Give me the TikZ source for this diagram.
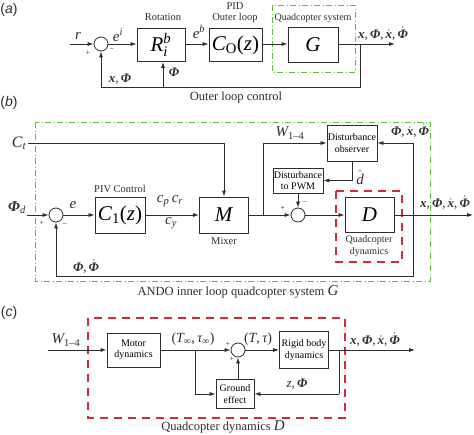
\RequirePackage{fix-cm}
\documentclass[tikz,border=0pt]{standalone}
\usepackage{amsmath,amssymb}
\usepackage{fontspec}
\setmainfont{Liberation Serif}
\newfontfamily\panelfont{Liberation Sans}
\usetikzlibrary{arrows.meta}
\definecolor{ggreen}{RGB}{95,190,60}
\definecolor{rred}{RGB}{212,40,60}
\definecolor{lc}{RGB}{45,45,45}
\tikzset{
  blk/.style={draw=lc, line width=0.8pt, inner sep=0pt, align=center},
  sumc/.style={circle, draw=lc, line width=0.8pt, minimum size=14pt, inner sep=0pt},
  conn/.style={draw=lc, line width=0.8pt, -{Latex[length=6pt,width=4pt]}},
  wire/.style={draw=lc, line width=0.8pt},
  gbox/.style={draw=ggreen, line width=1pt, dash pattern=on 6pt off 2.5pt on 1pt off 2.5pt},
  rbox/.style={draw=rred, line width=1.6pt, dash pattern=on 8pt off 6pt},
  lbl/.style={inner sep=0pt, text=lc},
  bigtxt/.style={font=\fontsize{21}{21}\selectfont},
  midtxt/.style={font=\fontsize{15}{15}\selectfont},
  captxt/.style={font=\fontsize{10.5}{12}\selectfont},
  boxtxt/.style={font=\fontsize{10}{11.5}\selectfont},
  smltxt/.style={font=\fontsize{8}{8}\selectfont},
  outtxt/.style={font=\fontsize{13}{13}\selectfont},
  titletxt/.style={font=\fontsize{12.5}{12.5}\selectfont},
  paneltxt/.style={font=\panelfont\fontsize{14}{14}\selectfont}
}
\newcommand{\mi}[1]{\text{\itshape #1}}
\newcommand{\mb}[1]{\text{\bfseries\itshape #1}}
\newcommand{\bPhi}{\mb{Φ}}
\newcommand{\bx}{\mb{x}}
\newcommand{\outlab}{$\bx\text{,\,}\bPhi\text{,\,}\dot{\bx}\text{,\,}\dot{\bPhi}$}
\begin{document}
\begin{tikzpicture}[x=1pt,y=-1pt]
\useasboundingbox (0,0) rectangle (474,434);
% ---------------- (a) ----------------
\node[lbl,paneltxt] (pa) at (9,10) {(\textit{a})};
\node[sumc] (s1) at (101,44) {};
\node[blk,bigtxt,minimum width=48pt,minimum height=33pt] (rot) at (161,45) {$\mi{R}_{\mi{i}}^{\mi{b}}$};
\node[blk,bigtxt,minimum width=53pt,minimum height=33pt] (co) at (235.5,45) {$\mi{C}_{\text{O}}\text{(}\mi{z}\text{)}$};
\node[blk,bigtxt,minimum width=50pt,minimum height=35pt] (G) at (313,44.5) {\textit{G}};
\draw[gbox] (272,5) rectangle (355,72);
\coordinate (rin) at (70,44);
\coordinate (aout) at (395,44);
\coordinate (ab) at (360,44);
\coordinate (fc) at (360,87);
\coordinate (fa) at (101,87);
\coordinate (fb) at (163,87);
\draw[conn] (rin) -- (s1);
\draw[conn] (s1) -- (rot.west |- s1);
\draw[conn] (rot.east |- s1) -- (co.west |- s1);
\draw[conn] (co.east |- s1) -- (G.west |- s1);
\draw[conn] (G.east |- s1) -- (aout);
\draw[wire] (ab) -- (fc) -- (fa);
\draw[conn] (fa) -- (s1);
\draw[conn] (fb) -- (fb |- rot.south);
\node[lbl,midtxt] (lr) at (78,36) {\textit{r}};
\node[lbl,midtxt] (lei) at (118,35) {$\mi{e}^{\mi{i}}$};
\node[lbl,midtxt] (leb) at (199,32) {$\mi{e}^{\mi{b}}$};
\node[lbl,smltxt] (p1) at (88,53) {+};
\node[lbl,smltxt] (m1) at (112,50) {−};
\node[lbl,captxt] (lrot) at (163,17) {Rotation};
\node[lbl,captxt] (lpid) at (235,6) {PID};
\node[lbl,captxt] (lol) at (235,18) {Outer loop};
\node[lbl,boxtxt] (lqs) at (313,18) {Quadcopter system};
\node[lbl,outtxt] (lao) at (383,34) {\outlab};
\node[lbl,outtxt] (lxp) at (120,79) {$\bx\text{,\,}\bPhi$};
\node[lbl,outtxt] (lph) at (174,72) {$\bPhi$};
\node[lbl,titletxt] (lolc) at (236,97) {Outer loop control};
% ---------------- (b) ----------------
\node[lbl,paneltxt] (pb) at (9,103) {(\textit{b})};
\draw[gbox] (35,122) rectangle (430,281);
\node[lbl,font=\fontsize{16}{16}\selectfont] (ct) at (19,143) {$\mi{C}_{\mi{t}}$};
\coordinate (ctr) at (28,143);
\coordinate (ctc) at (224,143);
\node[lbl,font=\fontsize{15}{15}\selectfont] (phd) at (17,208) {$\bPhi_{\mi{d}}$};
\coordinate (phin) at (27,215);
\node[sumc] (s2) at (56,215) {};
\node[blk,bigtxt,minimum width=50pt,minimum height=36pt] (C1) at (120,215) {$\mi{C}_{\text{1}}\text{(}\mi{z}\text{)}$};
\node[blk,bigtxt,minimum width=49pt,minimum height=36pt] (M) at (224,215) {\textit{M}};
\node[sumc] (s3) at (298,215) {};
\node[blk,boxtxt,minimum width=50pt,minimum height=36pt] (DO) at (352,143) {Disturbance\\observer};
\node[blk,boxtxt,minimum width=50pt,minimum height=25pt] (DP) at (298,180.5) {Disturbance\\to PWM};
\node[blk,bigtxt,minimum width=49pt,minimum height=35pt] (D) at (369.5,215) {\textit{D}};
\draw[rbox] (336,191) rectangle (402,262);
\coordinate (bout) at (473,215);
\coordinate (bbt) at (413,143);
\coordinate (bbb) at (413,276);
\coordinate (bbl) at (56,276);
\coordinate (wb) at (263,215);
\coordinate (wt) at (263,143);
\draw[wire] (ctr) -- (ctc);
\draw[conn] (ctc) -- (M);
\draw[conn] (phin) -- (s2);
\draw[conn] (s2) -- (C1);
\draw[conn] (C1) -- (M);
\draw[conn] (M) -- (s3);
\draw[conn] (s3) -- (D);
\draw[conn] (D) -- (bout);
\draw[wire] (wb) -- (wt);
\draw[conn] (wt) -- (DO);
\draw[conn] (DO.south) |- (DP.east);
\draw[conn] (DP) -- (s3);
\draw[wire] (bbt) -- (bbb) -- (bbl);
\draw[conn] (bbl) -- (s2);
\draw[conn] (bbt) -- (DO);
\node[lbl,midtxt] (le) at (73,205) {\textit{e}};
\node[lbl,captxt] (lpiv) at (120,189) {PIV Control};
\node[lbl,midtxt] (lcpcr) at (170,201) {$\mi{c}_{\mi{p}}\,\mi{c}_{\mi{r}}$};
\node[lbl,midtxt] (lcy) at (171,223) {$\mi{c}_{\mi{y}}$};
\node[lbl,captxt] (lmix) at (224,241) {Mixer};
\node[lbl,midtxt] (lw) at (290,133) {$\mi{W}_{\text{1–4}}$};
\node[lbl,midtxt] (ldh) at (360,177) {$\hat{\mi{d}}$};
\node[lbl,smltxt] (p3) at (283,208) {+};
\node[lbl,smltxt] (m3) at (305,203) {−};
\node[lbl,smltxt] (p2) at (42,223) {+};
\node[lbl,smltxt] (m2) at (65,225) {−};
\node[lbl,boxtxt,align=center] (lqd) at (369,246) {Quadcopter\\dynamics};
\node[lbl,outtxt] (lbo) at (445,203) {\outlab};
\node[lbl,outtxt] (lbt) at (410,131) {$\bPhi\text{,\,}\dot{\bx}\text{,\,}\dot{\bPhi}$};
\node[lbl,outtxt] (lbf) at (86,267) {$\bPhi\text{,\,}\dot{\bPhi}$};
\node[lbl,titletxt] (lando) at (238,292) {ANDO inner loop quadcopter system {\fontsize{15}{15}\selectfont\textit{G}}};
% ---------------- (c) ----------------
\node[lbl,paneltxt] (pc) at (9,313) {(\textit{c})};
\draw[rbox] (88,318) rectangle (345,418);
\node[lbl,midtxt] (lw2) at (66,340) {$\mi{W}_{\text{1–4}}$};
\coordinate (cin) at (48,350);
\node[blk,boxtxt,minimum width=53pt,minimum height=34pt] (MD) at (133.5,350) {Motor\\dynamics};
\node[sumc] (s4) at (238,350) {};
\node[blk,boxtxt,minimum width=38pt,minimum height=29pt] (GE) at (235,394) {Ground\\effect};
\node[blk,boxtxt,minimum width=49pt,minimum height=37pt] (RB) at (304,350) {Rigid body\\dynamics};
\coordinate (cout) at (415,350);
\coordinate (cfb) at (339,350);
\coordinate (cfd) at (339,394);
\coordinate (cbt) at (195,350);
\coordinate (cbb) at (195,394);
\draw[conn] (cin) -- (MD);
\draw[conn] (MD) -- (s4);
\draw[wire] (cbt) -- (cbb);
\draw[conn] (cbb) -- (GE);
\draw[conn] (s4 |- GE.north) -- (s4);
\draw[conn] (s4) -- (RB);
\draw[conn] (RB) -- (cout);
\draw[wire] (cfb) -- (cfd);
\draw[conn] (cfd) -- (GE);
\node[lbl,font=\fontsize{14}{14}\selectfont] (ltinf) at (193,339) {$\text{(}\mi{T}_{\text{∞}}\text{,\,}\mi{τ}_{\text{∞}}\text{)}$};
\node[lbl,font=\fontsize{14}{14}\selectfont] (ltt) at (258,339) {$\text{(}\mi{T}\text{,\,}\mi{τ}\text{)}$};
\node[lbl,smltxt] (p4) at (228,344) {+};
\node[lbl,smltxt] (p5) at (232,359) {+};
\node[lbl,outtxt] (lco) at (375,340) {\outlab};
\node[lbl,outtxt] (lzp) at (297,384) {$\mi{z}\text{,\,}\bPhi$};
\node[lbl,titletxt] (lqdd) at (223,427) {Quadcopter dynamics {\fontsize{15}{15}\selectfont\textit{D}}};
\end{tikzpicture}
\end{document}
